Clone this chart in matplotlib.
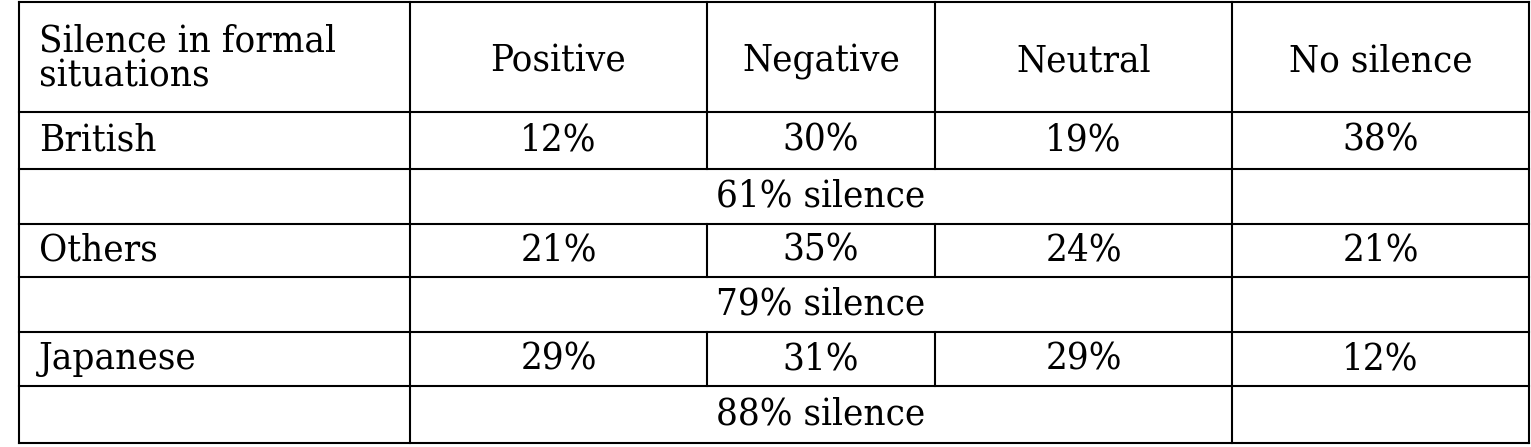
import matplotlib
matplotlib.use("Agg")
import matplotlib.pyplot as plt

header = ["Silence in formal\nsituations", "Positive", "Negative", "Neutral", "No silence"]
groups = ["British", "Others", "Japanese"]
values = [["12%", "30%", "19%", "38%"],
          ["21%", "35%", "24%", "21%"],
          ["29%", "31%", "29%", "12%"]]
silence = ["61% silence", "79% silence", "88% silence"]

W, H = 1531, 447
fig = plt.figure(figsize=(W/100, H/100), dpi=100)
ax = fig.add_axes([0, 0, 1, 1])
ax.set_xlim(0, W); ax.set_ylim(H, 0); ax.axis("off")

cols = [19, 410, 707, 935, 1232, 1529]
rows = [2, 112, 169, 224, 277, 332, 386, 443]
lw = 1.5
font = dict(family="DejaVu Serif", fontsize=27.5, color="black", fontstretch="condensed")

for y in rows:
    ax.plot([cols[0], cols[-1]], [y, y], color="black", lw=lw)
for x in [cols[0], cols[1], cols[4], cols[5]]:
    ax.plot([x, x], [rows[0], rows[-1]], color="black", lw=lw)
for x in [cols[2], cols[3]]:
    ax.plot([x, x], [rows[0], rows[1]], color="black", lw=lw)
    for i in range(3):
        ax.plot([x, x], [rows[1+2*i], rows[2+2*i]], color="black", lw=lw)

ax.text(cols[0]+20, (rows[0]+rows[1])/2+2, header[0], ha="left", va="center", linespacing=0.95, **font)
for j in range(1, 5):
    ax.text((cols[j]+cols[j+1])/2, (rows[0]+rows[1])/2+5, header[j], ha="center", va="center", **font)
for i, g in enumerate(groups):
    yc = (rows[1+2*i]+rows[2+2*i])/2
    ax.text(cols[0]+20, yc, g, ha="left", va="center", **font)
    for j, v in enumerate(values[i]):
        ax.text((cols[j+1]+cols[j+2])/2, yc, v, ha="center", va="center", **font)
    ys = (rows[2+2*i]+rows[3+2*i])/2
    ax.text((cols[1]+cols[4])/2, ys, silence[i], ha="center", va="center", **font)

fig.savefig("out.png", dpi=100)
